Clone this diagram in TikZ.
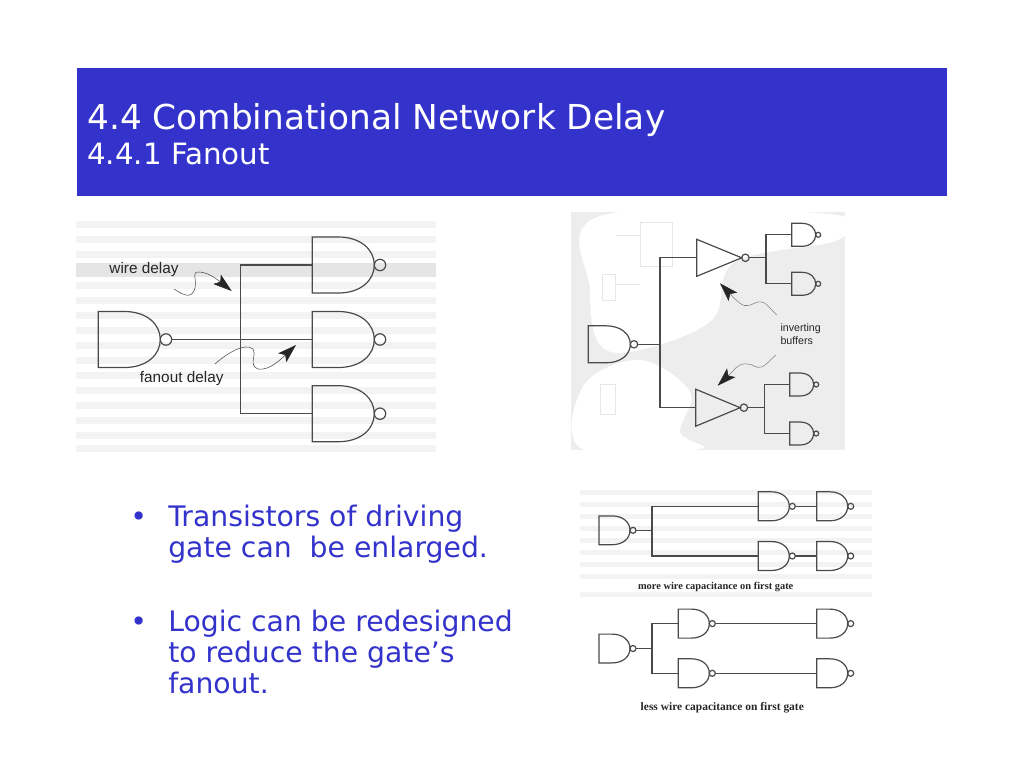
\documentclass[tikz,border=0pt]{standalone}
\usepackage{fontspec}
\usepackage{xcolor}
\setmainfont{DejaVu Sans}
\newfontfamily\labelfont{Liberation Sans}
\newfontfamily\capfont{Liberation Serif}
\usetikzlibrary{positioning,calc,arrows.meta}
\definecolor{slideblue}{HTML}{3333CC}
\definecolor{ghost}{HTML}{F3F3F3}
\definecolor{ghostgate}{HTML}{E6E6E6}
\definecolor{scanpanel}{HTML}{EDEDED}
\definecolor{gateline}{HTML}{4A4A4A}
\tikzset{
    wire/.style={draw=gateline, line width=0.8pt},
    gatebody/.style={draw=gateline, line width=0.9pt},
    squiggle/.style={draw=gateline, line width=0.4pt, -{Stealth[length=14pt,width=9pt,inset=3pt,color=black!85]}},
    handlabel/.style={inner sep=0pt, font=\labelfont\fontsize{11.5}{13}\selectfont, text=black!85, align=left},
    caplabel/.style={inner sep=0pt, font=\capfont\bfseries\fontsize{8.2}{10}\selectfont, text=black!85},
    bullettext/.style={inner sep=0pt, anchor=base west, align=left, text=slideblue, font=\fontsize{21.2}{23.25}\selectfont},
    pics/nandgate/.style n args={3}{code={
        \draw[gatebody, pic actions] (0,#1) -- (0,-#1) -- (0.42*#2,-#1)
            .. controls (0.78*#2,-#1) and (#2,-0.55*#1) .. (#2,0)
            .. controls (#2,0.55*#1) and (0.78*#2,#1) .. (0.42*#2,#1) -- cycle;
        \draw[gatebody, pic actions] (#2+#3,0) circle (#3);
        \coordinate (-in) at (0,0);
        \coordinate (-out) at (#2+2*#3,0);
    }},
    pics/invgate/.style n args={3}{code={
        \draw[gatebody, pic actions] (0,#1) -- (0,-#1) -- (#2,0) -- cycle;
        \draw[gatebody, pic actions] (#2+#3,0) circle (#3);
        \coordinate (-in) at (0,0);
        \coordinate (-out) at (#2+2*#3,0);
    }},
}
\begin{document}
\begin{tikzpicture}[x=0.75pt, y=-0.75pt]
    \useasboundingbox (0,0) rectangle (1024,768);

    % title banner
    \fill[slideblue] (77,68) rectangle (947,196);
    \node[inner sep=0pt, anchor=base west, text=white, font=\fontsize{25.75}{30}\selectfont] (title) at (87,129) {4.4 Combinational Network Delay};
    \node[inner sep=0pt, anchor=base west, text=white, font=\fontsize{22}{24}\selectfont] (subtitle) at (87,164) {4.4.1 Fanout};

    % scanned page behind the left figure
    \foreach \y in {221,236,251,282,297,312,327,342,357,372,387,402,417,432,445}
        \fill[ghost] (76,\y) rectangle (436,\y+7);
    \fill[black!10] (76,263) rectangle (436,277);

    % wire delay figure
    \pic (gL) at (98.3,339.5) {nandgate={28}{62}{5.7}};
    \pic (gT) at (312.3,265) {nandgate={28}{62}{5.7}};
    \pic (gM) at (312.3,339.5) {nandgate={28}{62}{5.7}};
    \pic (gB) at (312.3,413.7) {nandgate={28}{62}{5.7}};
    \coordinate (jL) at (240.7,339.5);
    \draw[wire] (gL-out) -- (gM-in);
    \draw[wire] (jL) |- (gT-in);
    \draw[wire] (jL) |- (gB-in);
    \node[handlabel] (wiredelay) at (144,270) {wire delay};
    \node[handlabel] (fanoutdelay) at (181.7,379) {fanout delay};
    \coordinate (wA) at (174,289);
    \coordinate (wB) at (231.7,291);
    \coordinate (fA) at (215,364);
    \coordinate (fB) at (296,345);
    \draw[squiggle] (wA) .. controls (186,297) and (192,298) .. (195,288)
        .. controls (197,277) and (191,272) .. (199,272)
        .. controls (208,272) and (218,280) .. (wB);
    \draw[squiggle] (fA) .. controls (226,354) and (245,342) .. (253,349)
        .. controls (257,356) and (248,365) .. (258,369)
        .. controls (270,371) and (282,358) .. (fB);

    % scanned page behind the buffer figure
    \fill[scanpanel] (571,212) rectangle (845,450);
    \fill[white] plot[smooth cycle, tension=0.6] coordinates {(600,216) (830,214) (838,240) (735,262) (712,320) (640,350) (600,345) (590,290)};
    \fill[white] plot[smooth cycle, tension=0.6] coordinates {(584,385) (640,360) (690,392) (680,432) (700,449) (582,449)};
    \draw[ghostgate, line width=0.6pt] (640,222) rectangle (672,266);
    \draw[ghostgate, line width=0.6pt] (602,274) rectangle (615,300);
    \draw[ghostgate, line width=0.6pt] (600,384) rectangle (615,414);
    \draw[ghostgate, line width=0.6pt] (616,235) -- (640,235) (616,284) -- (640,284);

    % inverting buffer figure
    \pic (bL) at (588.3,344.3) {nandgate={18.5}{42}{3.7}};
    \pic (iT) at (696.7,257.8) {invgate={18.5}{45}{3.7}};
    \pic (iB) at (695.7,407.7) {invgate={18.5}{44.5}{3.7}};
    \pic (oA) at (791.7,234.8) {nandgate={11.5}{24}{2.5}};
    \pic (oB) at (791.7,283.8) {nandgate={11.5}{24}{2.5}};
    \pic (oC) at (789.7,384.5) {nandgate={11.5}{24}{2.5}};
    \pic (oD) at (789.7,433.5) {nandgate={11.5}{24}{2.5}};
    \coordinate (jB) at (660,344.3);
    \coordinate (jT) at (766,257.8);
    \coordinate (jD) at (764.3,407.7);
    \draw[wire] (bL-out) -- (jB);
    \draw[wire] (jB) |- (iT-in);
    \draw[wire] (jB) |- (iB-in);
    \draw[wire] (iT-out) -- (jT);
    \draw[wire] (jT) |- (oA-in);
    \draw[wire] (jT) |- (oB-in);
    \draw[wire] (iB-out) -- (jD);
    \draw[wire] (jD) |- (oC-in);
    \draw[wire] (jD) |- (oD-in);
    \node[handlabel, font=\labelfont\fontsize{8}{10}\selectfont] (invlabel) at (800.7,334) {inverting\\buffers};
    \coordinate (uA) at (776.7,315);
    \coordinate (uB) at (720,283.3);
    \coordinate (dA) at (775.7,355);
    \coordinate (dB) at (717.7,385.7);
    \draw[squiggle, draw=gray] (uA) .. controls (764,302) and (764,300) .. (755,303)
        .. controls (745,308) and (743,306) .. (735,299) -- (uB);
    \draw[squiggle, draw=gray] (dA) .. controls (762,368) and (762,370) .. (752,365)
        .. controls (742,362) and (738,365) .. (732,372) -- (dB);

    % more wire figure
    \foreach \y in {490,502,514,526,538,550,562,574,592}
        \fill[ghost] (580,\y) rectangle (872,\y+5);
    \pic (mL) at (599,530.3) {nandgate={14.4}{31}{3}};
    \pic (mA) at (758.3,506.3) {nandgate={14.5}{31}{3}};
    \pic (mB) at (758.3,556) {nandgate={14.5}{31}{3}};
    \pic (mC) at (816.7,506.3) {nandgate={14.5}{31}{3}};
    \pic (mD) at (816.7,556) {nandgate={14.5}{31}{3}};
    \coordinate (jM) at (652,530.3);
    \draw[wire] (mL-out) -- (jM);
    \draw[wire] (jM) |- (mA-in);
    \draw[wire] (jM) |- (mB-in);
    \draw[wire] (mA-out) -- (mC-in);
    \draw[wire] (mB-out) -- (mD-in);
    \node[caplabel, font=\capfont\bfseries\fontsize{7.8}{10}\selectfont] (morecap) at (715.7,587.3) {more wire capacitance on first gate};

    % less wire figure
    \pic (lL) at (599,648.5) {nandgate={14.4}{31}{3}};
    \pic (lA) at (678.3,623.6) {nandgate={14.5}{31}{3}};
    \pic (lB) at (678.3,673.3) {nandgate={14.5}{31}{3}};
    \pic (lC) at (816.7,623.6) {nandgate={14.5}{31}{3}};
    \pic (lD) at (816.7,673.3) {nandgate={14.5}{31}{3}};
    \coordinate (jS) at (652,648.5);
    \draw[wire] (lL-out) -- (jS);
    \draw[wire] (jS) |- (lA-in);
    \draw[wire] (jS) |- (lB-in);
    \draw[wire] (lA-out) -- (lC-in);
    \draw[wire] (lB-out) -- (lD-in);
    \node[caplabel, font=\capfont\bfseries\fontsize{8.6}{10}\selectfont] (lesscap) at (722.3,707.7) {less wire capacitance on first gate};

    % bullets
    \node[bullettext] (bulA) at (130,526) {•};
    \node[bullettext] (txtA) at (168,557) {Transistors of driving\\gate can\ \ be enlarged.};
    \node[bullettext] (bulB) at (130,631) {•};
    \node[bullettext] (txtB) at (168,693) {Logic can be redesigned\\to reduce the gate’s\\fanout.};
\end{tikzpicture}
\end{document}
